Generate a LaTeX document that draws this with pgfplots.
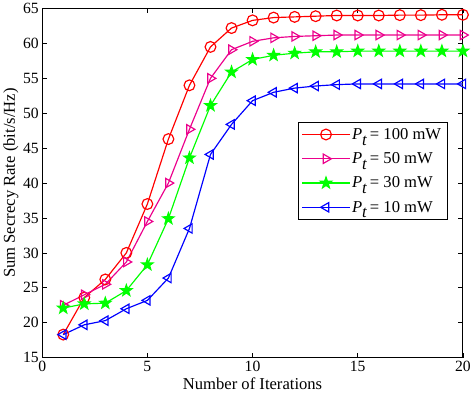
\documentclass[border=0pt]{standalone}
\usepackage{fontspec}
\setmainfont{Liberation Serif}
\usepackage{pgfplots}
\pgfplotsset{compat=1.18}
\pgfdeclareplotmark{fstar}{%
  \pgfpathmoveto{\pgfqpointpolar{90}{1.25\pgfplotmarksize}}%
  \pgfpathlineto{\pgfqpointpolar{126}{0.5\pgfplotmarksize}}%
  \pgfpathlineto{\pgfqpointpolar{162}{1.25\pgfplotmarksize}}%
  \pgfpathlineto{\pgfqpointpolar{198}{0.5\pgfplotmarksize}}%
  \pgfpathlineto{\pgfqpointpolar{234}{1.25\pgfplotmarksize}}%
  \pgfpathlineto{\pgfqpointpolar{270}{0.5\pgfplotmarksize}}%
  \pgfpathlineto{\pgfqpointpolar{306}{1.25\pgfplotmarksize}}%
  \pgfpathlineto{\pgfqpointpolar{342}{0.5\pgfplotmarksize}}%
  \pgfpathlineto{\pgfqpointpolar{18}{1.25\pgfplotmarksize}}%
  \pgfpathlineto{\pgfqpointpolar{54}{0.5\pgfplotmarksize}}%
  \pgfpathclose
  \pgfusepathqfillstroke}
\newcommand{\Pt}{\textit{P}\raisebox{-0.75ex}{\textit{t}}\,}
\begin{document}
\begin{tikzpicture}[x=1bp,y=1bp]
\begin{axis}[
  scale only axis,
  width=429bp, height=356bp,
  xmin=0, xmax=20, ymin=15, ymax=65,
  xtick={0,5,10,15,20}, ytick={15,20,...,65},
  tick align=inside, tick style={black, line width=0.8pt},
  major tick length=5bp,
  axis line style={line width=0.9pt},
  /pgf/number format/assume math mode=true,
  ticklabel style={font=\fontsize{16}{18}\selectfont},
  label style={font=\fontsize{17}{19}\selectfont},
  xlabel={Number of Iterations},
  ylabel={Sum Secrecy Rate (bit/s/Hz)},
  xlabel style={yshift=1bp},
  ylabel style={yshift=-2bp},
  legend style={at={(0.607,0.675)}, anchor=north west, font=\fontsize{17}{19}\selectfont,
    draw=black, line width=0.8pt, row sep=8bp, inner sep=4bp},
  legend image code/.code={\draw[mark repeat=2,mark phase=2] plot coordinates {(0bp,0bp)(24bp,0bp)(48bp,0bp)};},
  legend cell align=left,
  every axis plot/.append style={line width=1.2pt, mark size=5.5bp},
]
\addplot[red, mark=o] coordinates {
(1,18.3)(2,23.6)(3,26.2)(4,30.0)(5,37.0)(6,46.3)(7,54.0)(8,59.5)(9,62.2)(10,63.3)
(11,63.7)(12,63.8)(13,63.9)(14,64.0)(15,64.0)(16,64.0)(17,64.05)(18,64.05)(19,64.1)(20,64.1)};
\addlegendentry{\Pt = 100 mW}
\addplot[magenta, mark=triangle, mark options={rotate=-90}] coordinates {
(1,22.5)(2,24.0)(3,25.5)(4,28.7)(5,34.5)(6,40.0)(7,47.7)(8,55.0)(9,59.1)(10,60.3)
(11,60.8)(12,61.0)(13,61.1)(14,61.2)(15,61.2)(16,61.2)(17,61.2)(18,61.2)(19,61.2)(20,61.2)};
\addlegendentry{\Pt = 50 mW}
\addplot[green, mark=fstar, mark options={fill=green, mark size=4.8bp}] coordinates {
(1,22.1)(2,22.7)(3,22.8)(4,24.6)(5,28.3)(6,34.9)(7,43.6)(8,51.1)(9,55.9)(10,57.7)
(11,58.3)(12,58.6)(13,58.8)(14,58.8)(15,58.9)(16,58.9)(17,58.9)(18,58.9)(19,58.9)(20,58.9)};
\addlegendentry{\Pt = 30 mW}
\addplot[blue, mark=triangle, mark options={rotate=90}] coordinates {
(1,18.3)(2,19.7)(3,20.3)(4,22.0)(5,23.2)(6,26.4)(7,33.5)(8,44.1)(9,48.4)(10,51.8)
(11,53.0)(12,53.6)(13,53.9)(14,54.1)(15,54.2)(16,54.2)(17,54.2)(18,54.2)(19,54.2)(20,54.2)};
\addlegendentry{\Pt = 10 mW}
\end{axis}
\end{tikzpicture}
\end{document}
